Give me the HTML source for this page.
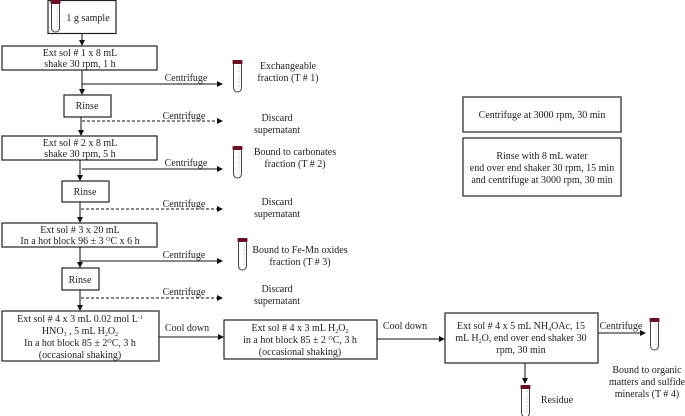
<!DOCTYPE html>
<html><head><meta charset="utf-8"><style>
html,body{margin:0;padding:0;background:#fff}
svg{display:block}
text{font-family:"Liberation Serif",serif;font-size:10px;fill:#222}
</style></head><body>
<svg width="685" height="416" viewBox="0 0 685 416" xmlns="http://www.w3.org/2000/svg">
<defs>
<marker id="ah" markerWidth="6" markerHeight="6" refX="5" refY="3" orient="auto" markerUnits="userSpaceOnUse"><path d="M0,0 L6,3 L0,6 z" fill="#111"/></marker>
<g id="tube">
<path d="M0.5,2 L0.5,27 Q0.5,32 4.5,32 Q8.5,32 8.5,27 L8.5,2" fill="#fff" stroke="#444" stroke-width="1"/>
<line x1="6" y1="6" x2="6" y2="28" stroke="#aaa" stroke-width="0.8" stroke-dasharray="1,1.5"/>
<rect x="-0.5" y="0" width="10" height="4" rx="1" fill="#6b0f24"/>
</g>
</defs>
<g fill="none" stroke="#222" stroke-width="1.2">
<rect x="48" y="0.5" width="68" height="33"/>
<rect x="2" y="46" width="155" height="24"/>
<rect x="64" y="95" width="47" height="22"/>
<rect x="2" y="136" width="155" height="24"/>
<rect x="62" y="181" width="47" height="21"/>
<rect x="2" y="223" width="155" height="24"/>
<rect x="62" y="268" width="37" height="22"/>
<rect x="2" y="311" width="157" height="50"/>
<rect x="224" y="320" width="153" height="39"/>
<rect x="445" y="313" width="153" height="50"/>
<rect x="463" y="97" width="158" height="35"/>
<rect x="463" y="138" width="158" height="58"/>
</g>
<g stroke="#111" stroke-width="1" fill="none">
<line x1="82" y1="34" x2="82" y2="45" marker-end="url(#ah)"/>
<line x1="82" y1="70" x2="82" y2="94" marker-end="url(#ah)"/>
<line x1="81" y1="117" x2="81" y2="135" marker-end="url(#ah)"/>
<line x1="80" y1="160" x2="80" y2="180" marker-end="url(#ah)"/>
<line x1="80" y1="202" x2="80" y2="222" marker-end="url(#ah)"/>
<line x1="80" y1="247" x2="80" y2="267" marker-end="url(#ah)"/>
<line x1="80" y1="290" x2="80" y2="310" marker-end="url(#ah)"/>
<line x1="82" y1="84" x2="222" y2="84" marker-end="url(#ah)"/>
<line x1="82" y1="169" x2="222" y2="169" marker-end="url(#ah)"/>
<line x1="80" y1="261" x2="222" y2="261" marker-end="url(#ah)"/>
<g stroke-dasharray="3,2">
<line x1="82" y1="121" x2="222" y2="121" marker-end="url(#ah)"/>
<line x1="81" y1="209" x2="222" y2="209" marker-end="url(#ah)"/>
<line x1="81" y1="298" x2="222" y2="298" marker-end="url(#ah)"/>
</g>
<line x1="159" y1="337" x2="223" y2="337" marker-end="url(#ah)"/>
<line x1="377" y1="339" x2="444" y2="339" marker-end="url(#ah)"/>
<line x1="598" y1="333" x2="645" y2="333" marker-end="url(#ah)"/>
<line x1="525" y1="363" x2="525" y2="383" marker-end="url(#ah)"/>
</g>
<use href="#tube" x="51" y="0"/>
<use href="#tube" x="233" y="60"/>
<use href="#tube" x="233" y="146"/>
<use href="#tube" x="238" y="238"/>
<use href="#tube" x="650" y="318"/>
<use href="#tube" x="521" y="385"/>
<g text-anchor="middle">
<text x="88" y="21">1 g sample</text>
<text x="80" y="56">Ext sol # 1 x 8 mL</text>
<text x="80" y="67">shake 30 rpm, 1 h</text>
<text x="87" y="109">Rinse</text>
<text x="80" y="146">Ext sol # 2 x 8 mL</text>
<text x="80" y="157">shake 30 rpm, 5 h</text>
<text x="85" y="195">Rinse</text>
<text x="80" y="233">Ext sol # 3 x 20 mL</text>
<text x="80" y="244">In a hot block 96 ± 3 <tspan font-size="6" dy="-3">O</tspan><tspan dy="3">C x 6 h</tspan></text>
<text x="80" y="283">Rinse</text>
<text x="80" y="322">Ext sol # 4 x 3 mL 0.02 mol L<tspan font-size="6" dy="-3">-1</tspan></text>
<text x="80" y="334">HNO<tspan font-size="6" dy="2">3</tspan><tspan dy="-2"> , 5 mL H</tspan><tspan font-size="6" dy="2">2</tspan><tspan dy="-2">O</tspan><tspan font-size="6" dy="2">2</tspan></text>
<text x="80" y="346">In a hot block 85 ± 2<tspan font-size="6" dy="-3">O</tspan><tspan dy="3">C, 3 h</tspan></text>
<text x="80" y="358">(occasional shaking)</text>
<text x="300" y="331">Ext sol # 4 x 3 mL H<tspan font-size="6" dy="2">2</tspan><tspan dy="-2">O</tspan><tspan font-size="6" dy="2">2</tspan></text>
<text x="300" y="343">in a hot block 85 ± 2 <tspan font-size="6" dy="-3">O</tspan><tspan dy="3">C, 3 h</tspan></text>
<text x="300" y="355">(occasional shaking)</text>
<text x="521" y="329">Ext sol # 4 x 5 mL NH<tspan font-size="6" dy="2">4</tspan><tspan dy="-2">OAc, 15</tspan></text>
<text x="521" y="341">mL H<tspan font-size="6" dy="2">2</tspan><tspan dy="-2">O, end over end shaker 30</tspan></text>
<text x="521" y="353">rpm, 30 min</text>
<text x="542" y="118">Centrifuge at 3000 rpm, 30 min</text>
<text x="542" y="159">Rinse with 8 mL water</text>
<text x="542" y="171">end over end shaker 30 rpm, 15 min</text>
<text x="542" y="183">and centrifuge at 3000 rpm, 30 min</text>
<text x="186" y="81">Centrifuge</text>
<text x="184" y="119">Centrifuge</text>
<text x="186" y="166">Centrifuge</text>
<text x="184" y="207">Centrifuge</text>
<text x="184" y="258">Centrifuge</text>
<text x="184" y="295">Centrifuge</text>
<text x="187" y="331">Cool down</text>
<text x="405" y="329">Cool down</text>
<text x="621" y="329">Centrifuge</text>
<text x="288" y="69">Exchangeable</text>
<text x="288" y="81">fraction (T # 1)</text>
<text x="277" y="121">Discard</text>
<text x="277" y="133">supernatant</text>
<text x="295" y="155">Bound to carbonates</text>
<text x="295" y="167">fraction (T # 2)</text>
<text x="277" y="205">Discard</text>
<text x="277" y="217">supernatant</text>
<text x="300" y="253">Bound to Fe-Mn oxides</text>
<text x="300" y="265">fraction (T # 3)</text>
<text x="277" y="292">Discard</text>
<text x="277" y="304">supernatant</text>
<g style="font-size:9.5px">
<text x="647" y="373">Bound to organic</text>
<text x="647" y="385">matters and sulfide</text>
<text x="647" y="397">minerals (T # 4)</text>
</g>
<text x="557" y="403">Residue</text>
</g>
</svg>
</body></html>
